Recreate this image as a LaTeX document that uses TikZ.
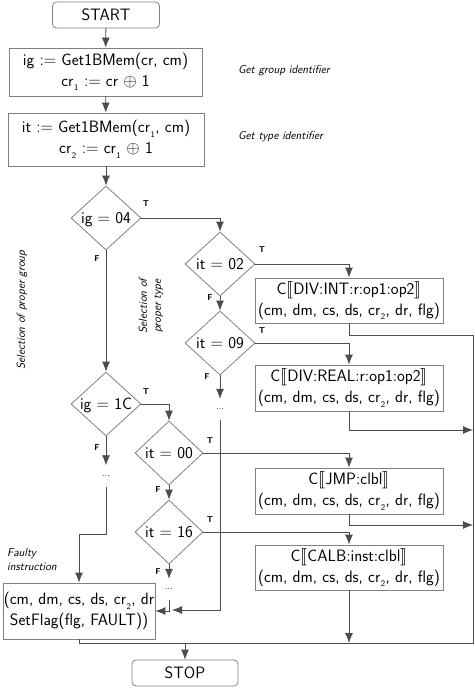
\documentclass[tikz,border=0pt]{standalone}
\usepackage{stmaryrd}
\usetikzlibrary{shapes.geometric,arrows.meta}
\newcommand{\sbs}[1]{\kern0.5pt\relax\raisebox{-4.5pt}{\fontsize{8.5}{9}\selectfont #1}\kern0.5pt\relax}
\newcommand{\dtext}[1]{\makebox[0pt]{\raisebox{-0.36em}[0pt][0pt]{#1}}}
\begin{document}
\begin{tikzpicture}[x=1pt,y=-1pt,
  font=\sffamily\fontsize{16.5}{21}\selectfont,
  line/.style={draw=black!70,line width=0.8pt},
  arr/.style={line,-{Latex[length=10pt,width=8pt]}},
  pbox/.style={draw=black!50,line width=0.8pt,inner sep=0pt,align=center},
  rbox/.style={pbox,rounded corners=4pt},
  dec/.style={draw=black!50,line width=0.8pt,shape=diamond,inner sep=0pt,minimum width=70pt,minimum height=64pt},
  tf/.style={font=\sffamily\bfseries\fontsize{8.5}{10}\selectfont,inner sep=0pt},
  note/.style={font=\sffamily\itshape\fontsize{11.5}{14}\selectfont,inner sep=0pt},
  dots/.style={inner sep=0pt,minimum height=21pt,font=\sffamily\fontsize{9}{10}\selectfont}]
\useasboundingbox (0,0) rectangle (474,688);

% process nodes
\node[rbox,minimum width=107pt,minimum height=26pt] (start) at (106,15) {START};
\node[pbox,minimum width=193pt,minimum height=48pt] (b1) at (105.5,72)
  {ig $:=$ Get1BMem(cr, cm)\\cr\sbs{1} $:=$ cr $\oplus$ 1};
\node[pbox,minimum width=196pt,minimum height=53pt] (b2) at (106,139.5)
  {it $:=$ Get1BMem(cr\sbs{1}, cm)\\cr\sbs{2} $:=$ cr\sbs{1} $\oplus$ 1};

\node[note,anchor=west] (n1) at (238,71) {Get group identifier};
\node[note,anchor=west] (n2) at (238,137) {Get type identifier};
\node[note,rotate=90] (n3) at (22,310) {Selection of proper group};
\node[note,rotate=90,align=center] (n4) at (151,306) {Selection of\\proper type};
\node[note,anchor=west,align=left] (n5) at (7,560) {Faulty\\instruction};

% decisions
\node[dec] (d1) at (106,218) {\dtext{ig $=$ 04}};
\node[dec] (d2) at (220,264) {\dtext{it $=$ 02}};
\node[dec] (d3) at (220,343) {\dtext{it $=$ 09}};
\node[dec] (d4) at (106,404) {\dtext{ig $=$ 1C}};
\node[dec,minimum width=68pt] (d5) at (169,453) {\dtext{it $=$ 00}};
\node[dec,minimum width=68pt] (d6) at (169,532) {\dtext{it $=$ 16}};

% instruction boxes
\node[pbox,minimum width=188pt,minimum height=45pt] (divint) at (349,300.5)
  {C$\llbracket$DIV:INT:r:op1:op2$\rrbracket$\\(cm, dm, cs, ds, cr\sbs{2}, dr, flg)};
\node[pbox,minimum width=188pt,minimum height=46pt] (divreal) at (349,388)
  {C$\llbracket$DIV:REAL:r:op1:op2$\rrbracket$\\(cm, dm, cs, ds, cr\sbs{2}, dr, flg)};
\node[pbox,minimum width=188pt,minimum height=46pt] (jmp) at (349,491)
  {C$\llbracket$JMP:clbl$\rrbracket$\\(cm, dm, cs, ds, cr\sbs{2}, dr, flg)};
\node[pbox,minimum width=188pt,minimum height=45pt] (calb) at (349,567.5)
  {C$\llbracket$CALB:inst:clbl$\rrbracket$\\(cm, dm, cs, ds, cr\sbs{2}, dr, flg)};
\node[pbox,minimum width=152pt,minimum height=56pt] (fault) at (79,611)
  {(cm, dm, cs, ds, cr\sbs{2}, dr\\SetFlag(flg, FAULT))};
\node[rbox,minimum width=106pt,minimum height=26pt] (stop) at (185,673) {STOP};

% dots
\node[dots] (dots1) at (220,409.5) {...};
\node[dots] (dots2) at (106,476) {...};
\node[dots] (dots3) at (169,589.5) {...};

% T / F labels
\node[tf] (t1) at (146,204) {T};
\node[tf] (f1) at (97,259) {F};
\node[tf] (t2) at (262,250) {T};
\node[tf] (f2) at (210,298) {F};
\node[tf] (t3) at (262,331) {T};
\node[tf] (f3) at (207,377) {F};
\node[tf] (t4) at (146,392) {T};
\node[tf] (f4) at (97,448) {F};
\node[tf] (t5) at (210,441) {T};
\node[tf] (f5) at (158,490) {F};
\node[tf] (t6) at (210,520) {T};
\node[tf] (f6) at (158,572) {F};

% helper coordinates
\coordinate (r1) at (473,335);
\coordinate (r2) at (473,643);
\coordinate (r3) at (473,430);
\coordinate (r4) at (473,525);
\coordinate (l2) at (79,643);
\coordinate (k) at (106,534);
\coordinate (j) at (172,610);
\coordinate (s) at (185,643);

% connectors
\draw[arr] (start) -- (b1);
\draw[arr] (b1) -- (b2);
\draw[arr] (b2) -- (d1);
\draw[arr] (d1.east) -| (d2.north);
\draw[arr] (d1.south) -- (d4.north);
\draw[arr] (d2.east) -| (divint.north);
\draw[arr] (d2.south) -- (d3.north);
\draw[arr] (d3.east) -| (divreal.north);
\draw[arr] (d3.south) -- (dots1.north);
\draw[arr] (dots1.south) |- (j);
\draw[arr] (d4.east) -| (d5.north);
\draw[arr] (d4.south) -- (dots2.north);
\draw[arr] (dots2.south) -- (k) -| (fault.north);
\draw[arr] (d5.east) -| (jmp.north);
\draw[arr] (d5.south) -- (d6.north);
\draw[arr] (d6.east) -| (calb.north);
\draw[arr] (d6.south) -- (dots3.north);
\draw[arr] (dots3.south) |- (fault.east);
\draw[line] (divint.south) |- (r1) -- (r2) -- (l2) -- (fault.south);
\draw[arr] (divreal.south) |- (r3);
\draw[arr] (jmp.south) |- (r4);
\draw[arr] (calb.south) -- (calb.south |- l2);
\draw[arr] (s) -- (stop.north);
\end{tikzpicture}
\end{document}
